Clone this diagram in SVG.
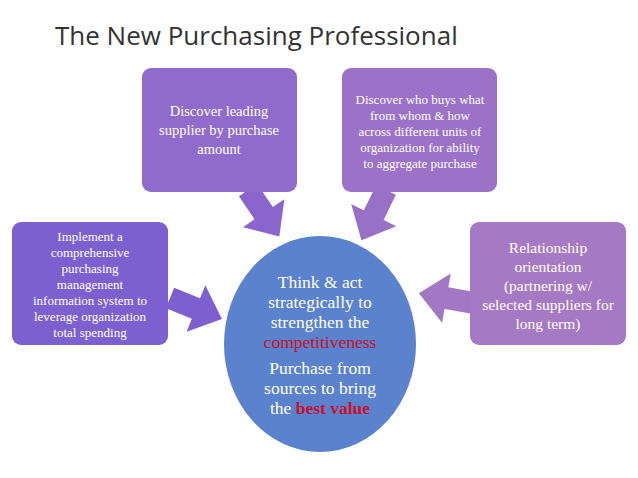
<svg xmlns="http://www.w3.org/2000/svg" width="638" height="478" viewBox="0 0 638 478">
<defs><polygon id="arr" points="0,-11 28,-11 28,-25 56,0 28,25 28,11 0,11"/></defs>
<style>
.b{stroke:none}
.t{font-family:"Liberation Serif",serif;font-size:13px;fill:#fff;text-anchor:middle}
.c{font-family:"Liberation Serif",serif;font-size:17.5px;fill:#fff;text-anchor:middle}
.r{fill:#c8102e}
</style>
<rect width="638" height="478" fill="#fff"/>
<text x="55" y="45" font-family="Open Sans, sans-serif" font-size="26" fill="#333">The New Purchasing Professional</text>
<g id="connectors">
<use href="#arr" transform="translate(248,190) rotate(56)" fill="#8a66cc"/>
<use href="#arr" transform="translate(386,190) rotate(116)" fill="#9870c8"/>
<use href="#arr" transform="translate(170,298) rotate(22)" fill="#7d5fd0"/>
<use href="#arr" transform="translate(474,303) rotate(190)" fill="#a277c4"/>
</g>
<g id="n1"><rect x="142" y="68" width="155" height="124" rx="9" fill="#8f6bcc"/>
<text class="t" font-size="14.5" style="font-size:14.5px"><tspan x="219" y="116">Discover leading</tspan><tspan x="219" y="135">supplier by purchase</tspan><tspan x="219" y="154">amount</tspan></text></g>
<g id="n2"><rect x="342" y="68" width="155" height="124" rx="9" fill="#9b72c8"/>
<text class="t"><tspan x="420" y="104">Discover who buys what</tspan><tspan x="420" y="120">from whom &amp; how</tspan><tspan x="420" y="136">across different units of</tspan><tspan x="420" y="152">organization for ability</tspan><tspan x="420" y="168">to  aggregate purchase</tspan></text></g>
<g id="n3"><rect x="12" y="222" width="156" height="123" rx="9" fill="#7d5fcf"/>
<text class="t"><tspan x="90" y="241">Implement a</tspan><tspan x="90" y="257">comprehensive</tspan><tspan x="90" y="273">purchasing</tspan><tspan x="90" y="289">management</tspan><tspan x="90" y="305">information system to</tspan><tspan x="90" y="321">leverage organization</tspan><tspan x="90" y="337">total spending</tspan></text></g>
<g id="n4"><rect x="470" y="222" width="156" height="123" rx="9" fill="#a679c4"/>
<text class="t" style="font-size:15.5px"><tspan x="548" y="253">Relationship</tspan><tspan x="548" y="272">orientation</tspan><tspan x="548" y="291">(partnering w/</tspan><tspan x="548" y="310">selected suppliers for</tspan><tspan x="548" y="329">long term)</tspan></text></g>
<g id="center"><ellipse cx="320" cy="344" rx="96" ry="108" fill="#5b82cc"/>
<text class="c"><tspan x="320" y="288">Think &amp; act</tspan><tspan x="320" y="308">strategically to</tspan><tspan x="320" y="328">strengthen the</tspan><tspan x="320" y="348" class="r">competitiveness</tspan><tspan x="320" y="374">Purchase from</tspan><tspan x="320" y="394">sources to bring</tspan><tspan x="320" y="414">the <tspan class="r" font-weight="bold">best value</tspan></tspan></text></g>
</svg>
